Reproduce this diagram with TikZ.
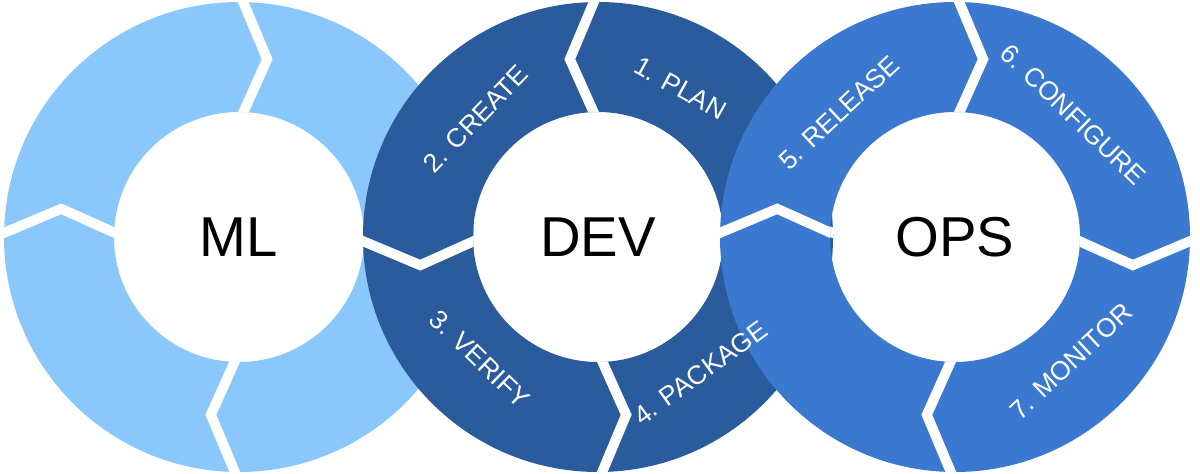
\documentclass[tikz,border=0pt]{standalone}
\usepackage{fontspec}
\setmainfont{Liberation Sans}
\definecolor{mlblue}{HTML}{8AC8FB}
\definecolor{devblue}{HTML}{2A5B9D}
\definecolor{opsblue}{HTML}{3B78D0}
\tikzset{
	cutline/.style={white, line width=0.2cm, line join=miter},
	steplabel/.style={white, inner sep=1pt, font=\fontsize{15}{15}\selectfont},
	ringlabel/.style={black, font=\fontsize{32}{32}\selectfont},
}
% ring: centre, colour, chevron offset in degrees
\newcommand{\cycring}[3]{
	\fill[#2, even odd rule] (#1) circle (4.7) (#1) circle (2.5);
	\begin{scope}[even odd rule]
		\clip (#1) circle (4.7) (#1) circle (2.5);
		\foreach \a in {0,90,180,270}
			\draw[cutline] ($(#1)+(\a:4.9)$) -- ($(#1)+(\a+#3:3.6)$) -- ($(#1)+(\a:2.3)$);
	\end{scope}
}
\usetikzlibrary{calc}
\begin{document}
\begin{tikzpicture}
	\useasboundingbox (0,0) rectangle (24,9.46);
	\coordinate (ML) at (4.78,4.72);
	\coordinate (DEV) at (11.96,4.72);
	\coordinate (OPS) at (19.1,4.72);
	\cycring{ML}{mlblue}{-9}
	\cycring{DEV}{devblue}{9}
	\cycring{OPS}{opsblue}{-9}
	\node[ringlabel] (ml label) at (ML) {ML};
	\node[ringlabel] (dev label) at (DEV) {DEV};
	\node[ringlabel] (ops label) at (OPS) {OPS};
	\node[steplabel, rotate=-29] (plan) at ($(DEV)+(61:3.4)$) {1. PLAN};
	\node[steplabel, rotate=46] (create) at ($(DEV)+(136:3.4)$) {2. CREATE};
	\node[steplabel, rotate=-44] (verify) at ($(DEV)+(226:3.4)$) {3. VERIFY};
	\node[steplabel, rotate=36] (package) at ($(DEV)+(307:3.4)$) {4. PACKAGE};
	\node[steplabel, rotate=43] (release) at ($(OPS)+(133:3.4)$) {5. RELEASE};
	\node[steplabel, rotate=-44] (configure) at ($(OPS)+(46:3.4)$) {6. CONFIGURE};
	\node[steplabel, rotate=43] (monitor) at ($(OPS)+(313:3.4)$) {7. MONITOR};
\end{tikzpicture}
\end{document}
